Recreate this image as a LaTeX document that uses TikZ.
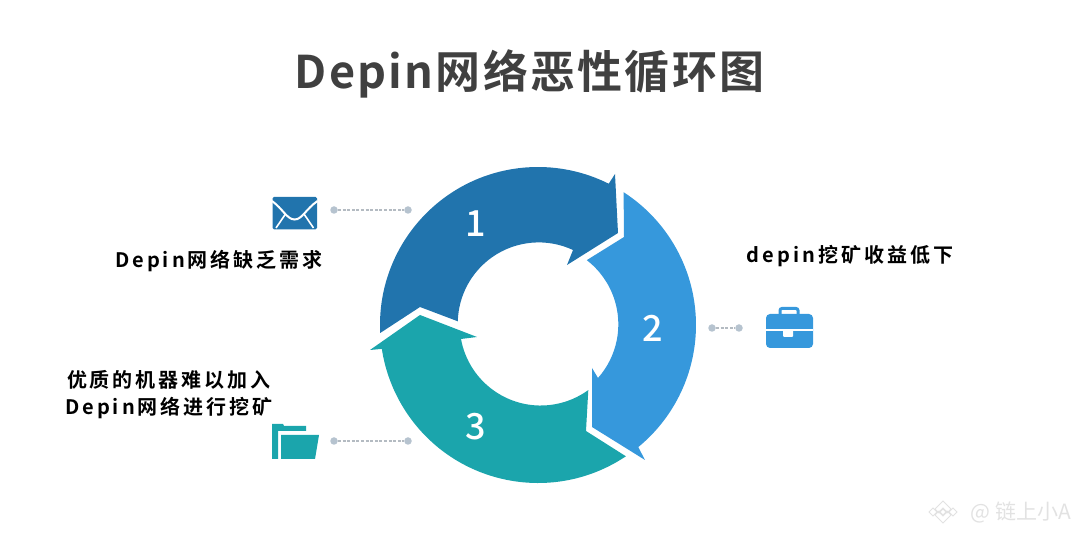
\documentclass[tikz,border=0pt]{standalone}
\usepackage{fontspec}
\setmainfont{Noto Sans CJK SC}
\newfontfamily\titlefont[LetterSpace=5]{Noto Sans CJK SC Bold}
\newfontfamily\labelfont[LetterSpace=15]{Noto Sans CJK SC Bold}
\newfontfamily\numfont{Noto Sans CJK SC Medium}
\definecolor{cA}{HTML}{2174AD}
\definecolor{cB}{HTML}{3698DC}
\definecolor{cC}{HTML}{1BA5AC}
\definecolor{dotc}{HTML}{B6C3CF}
\definecolor{linec}{HTML}{B4BBC2}
\definecolor{titlec}{HTML}{404040}
\definecolor{wm}{HTML}{E2E2E2}
\tikzset{
  titletext/.style={font=\titlefont\fontsize{45}{50}\selectfont,text=titlec,inner sep=0pt},
  lab/.style={font=\labelfont\fontsize{20}{27}\selectfont,text=black,inner sep=0pt,align=center},
  num/.style={font=\numfont\fontsize{36}{40}\selectfont,text=white,inner sep=0pt},
  dotn/.style={circle,fill=dotc,minimum size=7.5pt,inner sep=0pt},
  link/.style={draw=linec,line width=1.2pt,dash pattern=on 3pt off 1.6pt},
}
\begin{document}
\begin{tikzpicture}[x=1pt,y=1pt]
\useasboundingbox (0,0) rectangle (1080,538);
\coordinate (ctr) at (538,213);
% arrow 1
\fill[cA] ([shift={(182.9:158)}]ctr) arc[start angle=182.9,end angle=63.4,radius=158pt]
  -- (615,364) -- (618,305) -- (567,273) -- (573,288)
  arc[start angle=65,end angle=178.5,radius=81pt] -- (420,231) -- cycle;
% arrow 2
\fill[cB] ([shift={(57.2:158)}]ctr) arc[start angle=57.2,end angle=-50.6,radius=158pt]
  -- (645,78) -- (592,111) -- (592,170) -- (598,160)
  arc[start angle=-41.5,end angle=52.4,radius=81pt] -- (624,301) -- cycle;
% arrow 3
\fill[cC] ([shift={(-56.2:158)}]ctr) arc[start angle=-56.2,end angle=-171.3,radius=158pt]
  -- (370,188) -- (420,223) -- (477,201) -- (461,199)
  arc[start angle=-169.7,end angle=-54,radius=81pt] -- (586,107) -- cycle;
\node[num] (n1) at (476,314) {1};
\node[num] (n2) at (653,210) {2};
\node[num] (n3) at (476,111) {3};
% title
\node[titletext] (title) at (529.5,464) {Depin网络恶性循环图};
% labels
\node[lab] (l1) at (219,276.5) {Depin网络缺乏需求};
\node[lab] (l2) at (850,281.5) {depin挖矿收益低下};
\node[lab] (l3) at (169,143) {优质的机器难以加入\\Depin网络进行挖矿};
% connectors
\node[dotn] (d1a) at (334,328) {};
\node[dotn] (d1b) at (408,328) {};
\draw[link] (d1a) -- (d1b);
\node[dotn] (d2a) at (712,210) {};
\node[dotn] (d2b) at (739,210) {};
\draw[link] (d2a) -- (d2b);
\node[dotn] (d3a) at (334,97) {};
\node[dotn] (d3b) at (408,97) {};
\draw[link] (d3a) -- (d3b);
% envelope icon
\fill[cA,rounded corners=1.5pt] (272.5,341) rectangle (317,308.5);
\draw[white,line width=2pt] (272,337) .. controls (283,329) and (287,318.5) .. (294.7,318.5) .. controls (302,318.5) and (306,329) .. (317.5,337);
\draw[white,line width=1.6pt] (276,310) -- (285.5,324);
\draw[white,line width=1.6pt] (313.5,310) -- (304,324);
% briefcase icon
\draw[cB,line width=3pt,rounded corners=2pt] (780,222) -- (780,229.5) -- (798,229.5) -- (798,222);
\fill[cB,rounded corners=4pt] (766,224) rectangle (813,190);
\fill[white] (766,208.7) rectangle (813,207);
\fill[white,rounded corners=1pt] (783,208) rectangle (793,201);
% folder icon
\fill[cC] (272,79) -- (272,114) -- (283,114) -- (284,112) -- (306,112) -- (306,107) -- (278,107) -- (278,79) -- cycle;
\fill[cC] (281,103) -- (319,103) -- (315,79) -- (281,79) -- cycle;
% watermark
\begin{scope}[wm,line width=1pt]
\draw (943,37) -- (951,29) -- (947,25) -- (943,29) -- (939,25) -- (935,29) -- cycle;
\draw (943,30) -- (947,26) -- (943,22) -- (939,26) -- cycle;
\draw (929,26) -- (933,30) -- (937,26) -- (933,22) -- cycle;
\draw (949,26) -- (953,30) -- (957,26) -- (953,22) -- cycle;
\draw (943,15) -- (951,23) -- (947,27) -- (943,23) -- (939,27) -- (935,23) -- cycle;
\end{scope}
\node[font=\fontsize{21}{24}\selectfont,text=wm,inner sep=0pt] (wmark) at (1021,26) {@ 链上小A};
\end{tikzpicture}
\end{document}
